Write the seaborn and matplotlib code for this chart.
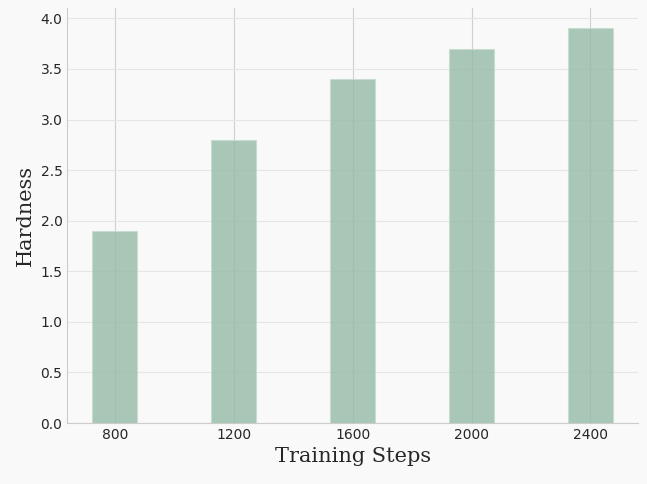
import matplotlib
matplotlib.use("Agg")
import matplotlib.pyplot as plt
import seaborn as sns
import pandas as pd

steps = ["800", "1200", "1600", "2000", "2400"]
hardness = [1.9, 2.8, 3.4, 3.7, 3.9]

df = pd.DataFrame({"Training Steps": steps, "Hardness": hardness})

sns.set_style("whitegrid")
fig, ax = plt.subplots(figsize=(6.47, 4.84), dpi=100)
fig.patch.set_facecolor("#f9f9f9")
ax.set_facecolor("#f9f9f9")

sns.barplot(data=df, x="Training Steps", y="Hardness", color="#8fc1a5",
            alpha=0.8, width=0.38, edgecolor="#c8dccf", linewidth=0.8, ax=ax)

ax.set_axisbelow(True)
ax.grid(axis="y", color="#e6e6e6", linewidth=0.8)
ax.grid(axis="x", color="#d0d0d0", linewidth=0.8)
ax.set_xlim(-0.4, 4.4)
ax.set_ylim(0, 4.1)
ax.set_yticks([0, 0.5, 1.0, 1.5, 2.0, 2.5, 3.0, 3.5, 4.0])
sns.despine(ax=ax)
for s in ("left", "bottom"):
    ax.spines[s].set_color("#cccccc")
ax.tick_params(labelsize=10, length=0)
ax.set_xlabel("Training Steps", family="DejaVu Serif", fontsize=15)
ax.set_ylabel("Hardness", family="DejaVu Serif", fontsize=15)

fig.subplots_adjust(left=0.104, right=0.986, top=0.983, bottom=0.126)
fig.savefig("out.png", dpi=100, facecolor=fig.get_facecolor())
